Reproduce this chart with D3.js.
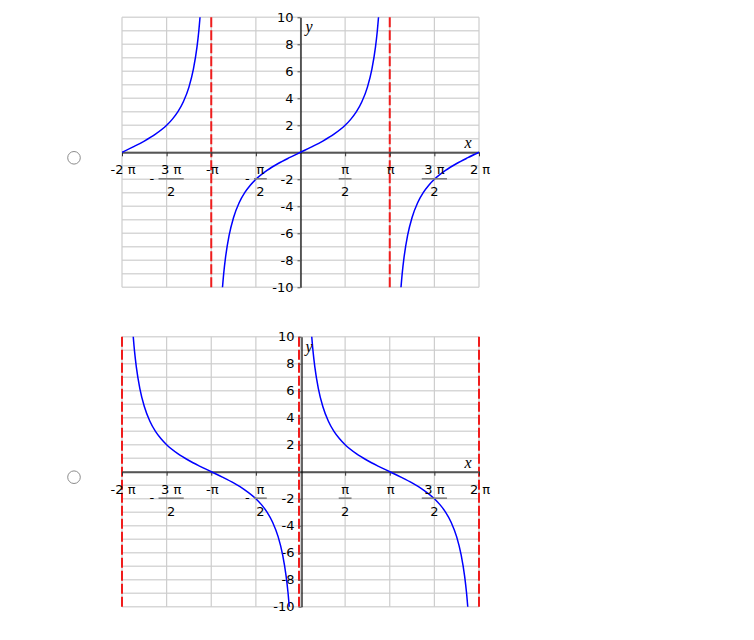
<!DOCTYPE html>
<html><head><meta charset="utf-8">
<script src="https://cdn.jsdelivr.net/npm/d3@7"></script>
<style>
body{margin:0;background:#fff;}
svg{display:block;font-family:"DejaVu Sans",sans-serif;}
</style>
</head><body>
<svg id="c" width="754" height="640"></svg>
<script>
// ---------- data (x in units of π) ----------
const xTickVals = [-2, -1.5, -1, -0.5, 0.5, 1, 1.5, 2];
const xTickNum  = ["2 π", "3 π", "π", "π", "π", "π", "3 π", "2 π"];
const xTickDen  = ["", "2", "", "2", "2", "", "2", ""];
const xTickNeg  = [true, true, true, true, false, false, false, false];
const yTickVals = [-10, -8, -6, -4, -2, 2, 4, 6, 8, 10];

// top chart branches
const topB1X = [-2, -1.875, -1.75, -1.625, -1.5, -1.4375, -1.375, -1.3125, -1.25, -1.2, -1.16, -1.14, -1.12];
const topB1Y = [0, 0.40, 0.83, 1.34, 2, 2.44, 2.99, 3.74, 4.83, 6.16, 7.79, 8.95, 10.48];
const topB2X = [-0.88, -0.86, -0.84, -0.8, -0.75, -0.6875, -0.625, -0.5625, -0.5, -0.375, -0.25, -0.125, 0,
                0.125, 0.25, 0.375, 0.5, 0.5625, 0.625, 0.6875, 0.75, 0.8, 0.84, 0.86, 0.88];
const topB2Y = [-10.48, -8.95, -7.79, -6.16, -4.83, -3.74, -2.99, -2.44, -2, -1.34, -0.83, -0.40, 0,
                0.40, 0.83, 1.34, 2, 2.44, 2.99, 3.74, 4.83, 6.16, 7.79, 8.95, 10.48];
const topB3X = [1.12, 1.14, 1.16, 1.2, 1.25, 1.3125, 1.375, 1.4375, 1.5, 1.625, 1.75, 1.875, 2];
const topB3Y = [-10.48, -8.95, -7.79, -6.16, -4.83, -3.74, -2.99, -2.44, -2, -1.34, -0.83, -0.40, 0];
const topAsym = [-1, 1];

// bottom chart branches
const botB1X = [-1.88, -1.86, -1.84, -1.8, -1.75, -1.6875, -1.625, -1.5625, -1.5, -1.375, -1.25, -1.125, -1,
                -0.875, -0.75, -0.625, -0.5, -0.4375, -0.375, -0.3125, -0.25, -0.2, -0.16, -0.14, -0.12];
const botB1Y = [10.48, 8.95, 7.79, 6.16, 4.83, 3.74, 2.99, 2.44, 2, 1.34, 0.83, 0.40, 0,
                -0.40, -0.83, -1.34, -2, -2.44, -2.99, -3.74, -4.83, -6.16, -7.79, -8.95, -10.48];
const botB2X = [0.12, 0.14, 0.16, 0.2, 0.25, 0.3125, 0.375, 0.4375, 0.5, 0.625, 0.75, 0.875, 1,
                1.125, 1.25, 1.375, 1.5, 1.5625, 1.625, 1.6875, 1.75, 1.8, 1.84, 1.86, 1.88];
const botB2Y = [10.48, 8.95, 7.79, 6.16, 4.83, 3.74, 2.99, 2.44, 2, 1.34, 0.83, 0.40, 0,
                -0.40, -0.83, -1.34, -2, -2.44, -2.99, -3.74, -4.83, -6.16, -7.79, -8.95, -10.48];
const botAsym = [-2, 0, 2];

// ---------- drawing ----------
const svg = d3.select("#c");
const x = d3.scaleLinear().domain([-2, 2]).range([122, 479]);
const zip = (xs, ys) => xs.map((v, i) => [v, ys[i]]);

const panels = [
  {top: 17.3, branches: [zip(topB1X, topB1Y), zip(topB2X, topB2Y), zip(topB3X, topB3Y)], asym: topAsym, axisShift: 0},
  {top: 336.7, branches: [zip(botB1X, botB1Y), zip(botB2X, botB2Y)], asym: botAsym, axisShift: 1}
];

panels.forEach((p, pi) => {
  const y = d3.scaleLinear().domain([-10, 10]).range([p.top + 270, p.top]);
  const g = svg.append("g");
  const y0 = y(0);

  // radio button
  svg.append("circle").attr("cx", 74).attr("cy", y0 + 5.5).attr("r", 6.3)
    .attr("fill", "#fff").attr("stroke", "#8c8c8c").attr("stroke-width", 1);

  // grid
  g.append("g").selectAll("line").data(d3.range(-10, 11)).join("line")
    .attr("x1", x(-2)).attr("x2", x(2))
    .attr("y1", d => y(d)).attr("y2", d => y(d))
    .attr("stroke", "#d7d7d7").attr("stroke-width", 1.6);
  g.append("g").selectAll("line").data(d3.range(-4, 5).map(k => k / 2)).join("line")
    .attr("x1", d => x(d)).attr("x2", d => x(d))
    .attr("y1", y(10)).attr("y2", y(-10))
    .attr("stroke", "#cdcdcd").attr("stroke-width", 1.2);

  // asymptotes
  g.append("g").selectAll("line").data(p.asym).join("line")
    .attr("x1", d => x(d) - (d === 0 ? 1.5 : 0)).attr("x2", d => x(d) - (d === 0 ? 1.5 : 0))
    .attr("y1", y(10)).attr("y2", y(-10))
    .attr("stroke", "#f01c1c").attr("stroke-width", 2)
    .attr("stroke-dasharray", "10,3");

  // x axis
  const xa = g.append("g").attr("transform", `translate(0,${y0})`)
    .call(d3.axisBottom(x).tickValues(xTickVals).tickSize(4).tickSizeOuter(0).tickFormat(""));
  xa.select(".domain").attr("stroke", "#555").attr("stroke-width", 2);
  xa.selectAll(".tick line").attr("stroke", "#333").attr("stroke-width", 1);

  // y axis
  const ya = g.append("g").attr("transform", `translate(${x(0) + p.axisShift},0)`)
    .call(d3.axisLeft(y).tickValues(yTickVals).tickSize(3).tickSizeOuter(0).tickPadding(4)
      .tickFormat(d => (d < 0 ? "-" : "") + Math.abs(d)));
  ya.select(".domain").attr("stroke", "#000").attr("stroke-width", 1.2);
  ya.selectAll(".tick line").attr("stroke", "#555");
  ya.selectAll(".tick text").attr("font-size", 13).attr("font-family", '"DejaVu Sans",sans-serif').attr("fill", "#000");

  // curve
  const clipId = "clip" + pi;
  svg.append("clipPath").attr("id", clipId).append("rect")
    .attr("x", x(-2)).attr("y", y(10)).attr("width", x(2) - x(-2)).attr("height", y(-10) - y(10));
  const line = d3.line().x(d => x(d[0])).y(d => y(d[1])).curve(d3.curveMonotoneX);
  g.append("g").attr("clip-path", `url(#${clipId})`).selectAll("path").data(p.branches).join("path")
    .attr("d", line).attr("fill", "none").attr("stroke", "#0000ff").attr("stroke-width", 1.5);

  // x tick labels
  const lab = g.append("g").attr("font-size", 13).attr("fill", "#000");
  xTickVals.forEach((v, i) => {
    const cx = x(v);
    if (xTickDen[i] === "") {
      lab.append("text").attr("x", cx + 1).attr("y", y0 + 22).attr("text-anchor", "middle")
        .text((xTickNeg[i] ? "-" : "") + xTickNum[i]);
    } else {
      const num = lab.append("text").attr("y", y0 + 22).attr("text-anchor", "middle").text(xTickNum[i]);
      const w = num.node().getComputedTextLength();
      const barW = w + 5;
      const minusW = 5, gap = 4;
      let fc = cx;
      if (xTickNeg[i]) {
        const total = minusW + gap + barW;
        const start = cx - total / 2;
        fc = start + minusW + gap + barW / 2;
        lab.append("text").attr("x", start).attr("y", y0 + 30.5).text("-");
      }
      num.attr("x", fc);
      lab.append("line").attr("x1", fc - barW / 2).attr("x2", fc + barW / 2)
        .attr("y1", y0 + 26.5).attr("y2", y0 + 26.5)
        .attr("stroke", "#808080").attr("stroke-width", 1.6);
      lab.append("text").attr("x", fc).attr("y", y0 + 44).attr("text-anchor", "middle").text(xTickDen[i]);
    }
  });

  // axis names
  g.append("text").attr("x", 468).attr("y", y0 - 4).attr("text-anchor", "middle")
    .attr("font-family", '"Liberation Serif",serif').attr("font-style", "italic").attr("font-size", 16)
    .attr("fill", "#000").text("x");
  g.append("text").attr("x", 309).attr("y", y(10) + 15).attr("text-anchor", "middle")
    .attr("font-family", '"Liberation Serif",serif').attr("font-style", "italic").attr("font-size", 16)
    .attr("fill", "#000").text("y");
});
</script>
</body></html>
